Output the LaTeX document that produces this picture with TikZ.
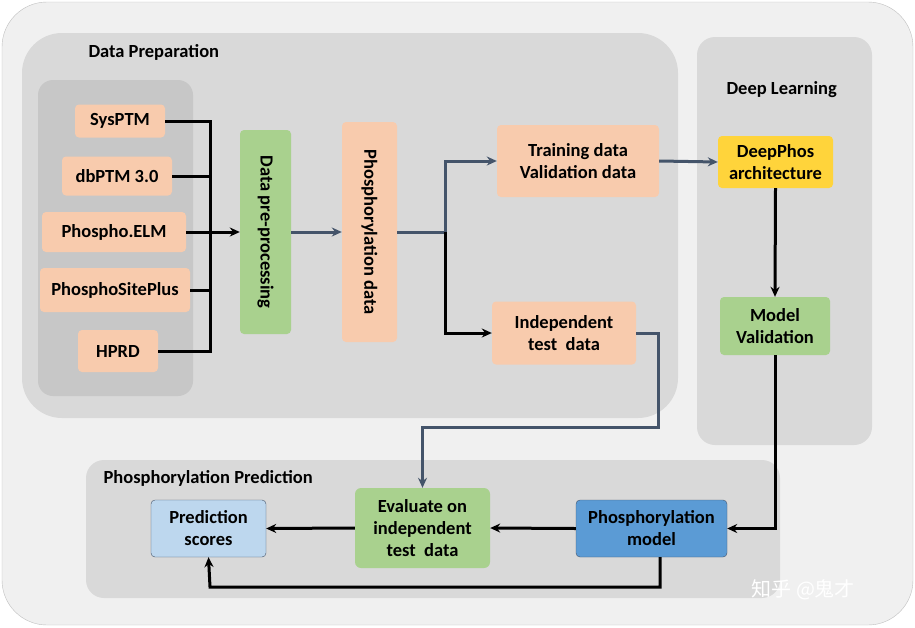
\documentclass[tikz,border=0pt]{standalone}
\usepackage{fontspec}
\setmainfont{Carlito}
\newfontfamily\cjk{Noto Sans CJK SC}
\usetikzlibrary{arrows.meta}
\definecolor{slate}{HTML}{44546A}
\definecolor{srcfill}{HTML}{F8CBAD}
\definecolor{grfill}{HTML}{A9D18E}
\definecolor{yel}{HTML}{FFD43B}
\definecolor{pmblue}{HTML}{5B9BD5}
\definecolor{psblue}{HTML}{BDD7EE}
\begin{document}
\begin{tikzpicture}[x=1pt,y=-1pt,
  lbl/.style={font=\bfseries\fontsize{18.5}{22}\selectfont,align=center,text=black},
  area/.style={fill=black!15,draw=none},
  blk/.style={line width=3pt,-{Stealth[length=10pt,width=9pt]}},
  gry/.style={line width=3pt,draw=slate,-{Stealth[length=10pt,width=9pt]}},
  ttl/.style={font=\bfseries\fontsize{18.5}{22}\selectfont,anchor=west}]
\useasboundingbox (0,0) rectangle (915,627);
\fill[black!6,draw=black!25,rounded corners=45pt] (2,2) rectangle (913,625);
\fill[area,rounded corners=40pt] (22,33) rectangle (678,418);
\fill[black!22,rounded corners=15pt] (38,80) rectangle (193,396);
\fill[area,rounded corners=18pt] (697,37) rectangle (872,445);
\fill[area,rounded corners=18pt] (86,460) rectangle (780,598);
\node[ttl] (t1) at (85,52) {Data Preparation};
\node[ttl] (t2) at (723,90) {Deep Learning};
\node[ttl] (t3) at (100,478) {Phosphorylation Prediction};
\tikzset{s/.style={lbl,fill=srcfill,rounded corners=4pt,inner sep=0pt}}
\node[s,minimum width=90,minimum height=33] (a) at (120,121) {SysPTM};
\node[s,minimum width=110,minimum height=39] (b) at (117,176) {dbPTM 3.0};
\node[s,minimum width=144,minimum height=40] (c) at (114,232) {Phospho.ELM};
\node[s,minimum width=150,minimum height=44] (d) at (115,290) {PhosphoSitePlus};
\node[s,minimum width=80,minimum height=42] (e) at (118,351) {HPRD};
\node[lbl,fill=grfill,rounded corners=4pt,minimum width=204,minimum height=51,inner sep=0pt,rotate=-90] (pre) at (265.5,232) {Data pre-processing};
\node[lbl,fill=srcfill,rounded corners=4pt,minimum width=220,minimum height=55,inner sep=0pt,rotate=-90] (pd) at (369.5,232) {Phosphorylation data};
\node[s,minimum width=162,minimum height=72] (tr) at (578,161) {Training data\\Validation data};
\node[s,minimum width=144,minimum height=63] (ind) at (564,333) {Independent\\test\ \ data};
\node[lbl,fill=yel,rounded corners=4pt,minimum width=115,minimum height=52,inner sep=0pt] (dp) at (775.5,162) {DeepPhos\\architecture};
\node[lbl,fill=grfill,rounded corners=4pt,minimum width=110,minimum height=58,inner sep=0pt] (mv) at (775,326) {Model\\Validation};
\node[lbl,fill=pmblue,draw=slate,rounded corners=4pt,minimum width=151,minimum height=57,inner sep=0pt] (pm) at (651.5,528.5) {Phosphorylation\\model};
\node[lbl,fill=grfill,rounded corners=6pt,minimum width=135,minimum height=80,inner sep=0pt] (ev) at (422.5,528) {Evaluate on\\independent\\test\ \ data};
\node[lbl,fill=psblue,draw=slate,rounded corners=4pt,minimum width=115,minimum height=57,inner sep=0pt] (ps) at (208.5,528.5) {Prediction\\scores};
\coordinate (j) at (210,232);
\draw[line width=3pt] (a.east) -| (j) (b.east) -| (j) (d.east) -| (j) (e.east) -| (j);
\draw[blk] (c.east) -- (pre.south);
\draw[gry] (pre.north) -- (pd.south);
\coordinate (k) at (445,232);
\draw[line width=3pt,slate] (pd.north) -- (k);
\draw[gry] (k) |- (tr.west);
\draw[blk] (k) |- (ind.west);
\draw[gry] (tr.east) -- (dp.west);
\draw[blk] (dp.south) -- (mv.north);
\draw[blk] (mv.south) |- (pm.east);
\draw[gry] (ind.east) -| (658,427) -| (ev.north);
\draw[blk] (pm.west) -- (ev.east);
\draw[blk] (ev.west) -- (ps.east);
\draw[blk] (660,557) |- (210,587) -- (ps.south);
\node[font=\cjk\fontsize{20}{24}\selectfont,text=white,anchor=west] (wm) at (748,590) {知乎 @鬼才};
\end{tikzpicture}
\end{document}
